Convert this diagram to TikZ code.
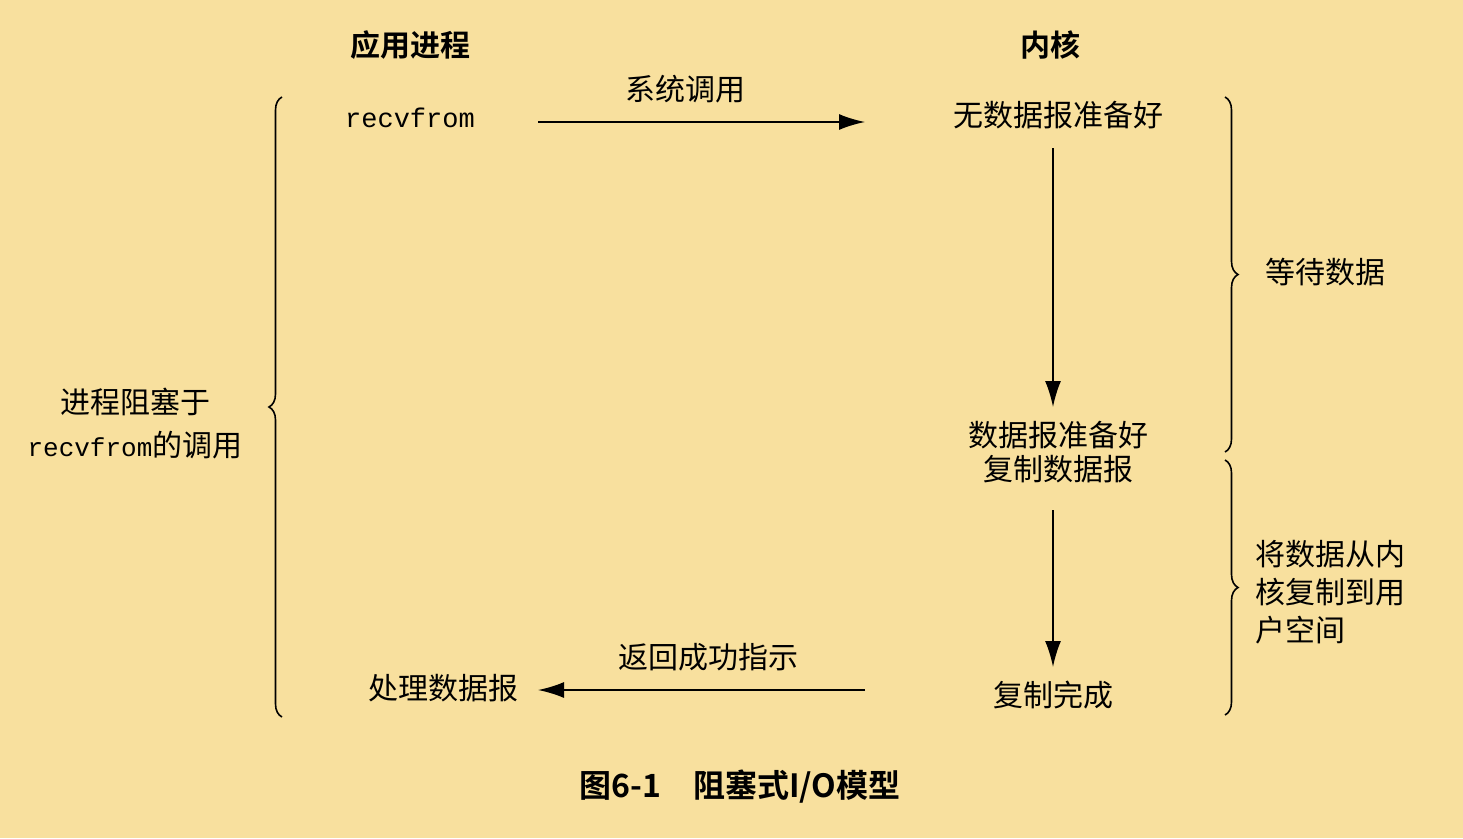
\documentclass[tikz,border=0pt]{standalone}
\usepackage{fontspec}
\newfontfamily\cjk{Noto Sans CJK SC}
\newfontfamily\cjkb{Noto Sans CJK SC Bold}
\setmonofont{Liberation Mono}
\usetikzlibrary{decorations.pathreplacing,arrows.meta}
\definecolor{bg}{HTML}{F8E09E}
\begin{document}
\begin{tikzpicture}[x=1pt,y=-1pt,
  txt/.style={font=\cjk\fontsize{30}{34}\selectfont,inner sep=0pt},
  hd/.style={font=\cjkb\fontsize{30}{34}\selectfont,inner sep=0pt},
  mono/.style={font=\ttfamily\fontsize{27}{30}\selectfont,inner sep=0pt},
  arr/.style={line width=1.8pt,-{Latex[length=26pt,width=16pt]}},
  br/.style={line width=1.6pt,decorate,decoration={brace,amplitude=13pt}}]
\fill[bg] (0,0) rectangle (1463,838);
\useasboundingbox (0,0) rectangle (1463,838);
\node[hd] (app) at (410,45) {应用进程};
\node[hd] (ker) at (1050,45) {内核};
\node[mono] (recv) at (410,118) {recvfrom};
\node[txt] (nod) at (1058,115) {无数据报准备好};
\node[txt,align=center] (rdy) at (1058,452) {数据报准备好\\复制数据报};
\node[txt] (done) at (1053,695) {复制完成};
\node[txt] (proc) at (443,688) {处理数据报};
\coordinate (a1s) at (538,122); \coordinate (a1e) at (865,122);
\draw[arr] (a1s) -- (a1e) node[txt,pos=0.45,above=18pt] (sys) {系统调用};
\coordinate (a2s) at (1053,148); \coordinate (a2e) at (1053,407);
\draw[arr] (a2s) -- (a2e);
\coordinate (a3s) at (1053,510); \coordinate (a3e) at (1053,667);
\draw[arr] (a3s) -- (a3e);
\coordinate (a4s) at (865,690); \coordinate (a4e) at (538,690);
\draw[arr] (a4s) -- (a4e) node[txt,pos=0.48,above=18pt] (ret) {返回成功指示};
\coordinate (b1a) at (282,97); \coordinate (b1b) at (282,717);
\draw[br] (b1b) -- (b1a);
\coordinate (b2a) at (1225,97); \coordinate (b2b) at (1225,452);
\draw[br] (b2a) -- (b2b);
\coordinate (b3a) at (1225,460); \coordinate (b3b) at (1225,715);
\draw[br] (b3a) -- (b3b);
\node[txt] (blk1) at (135,402) {进程阻塞于};
\node[inner sep=0pt] (blk2) at (135,445) {\ttfamily\fontsize{26}{30}\selectfont recvfrom\cjk\fontsize{30}{34}\selectfont 的调用};
\node[txt] (wait) at (1325,272) {等待数据};
\node[txt,align=left,anchor=west] (copy) at (1255,592) {将数据从内\\[4pt]核复制到用\\[4pt]户空间};
\node[hd,font=\cjkb\fontsize{32}{34}\selectfont] (cap) at (740,787) {图6-1\quad 阻塞式I/O模型};
\end{tikzpicture}
\end{document}
